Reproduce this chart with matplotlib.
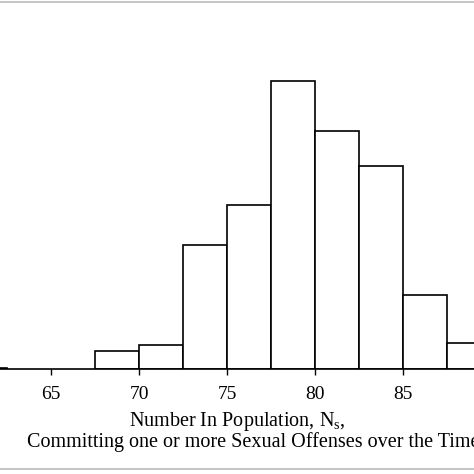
import matplotlib.pyplot as plt
from matplotlib.lines import Line2D

plt.rcParams['font.family'] = ['Liberation Serif', 'DejaVu Serif']

# histogram bins (left edges, width 2.5) and heights
bin_lefts = [60.0, 67.5, 70.0, 72.5, 75.0, 77.5, 80.0, 82.5, 85.0, 87.5]
counts = [1, 18, 24, 124, 164, 288, 238, 203, 74, 26]
bin_width = 2.5
xticks = [65, 70, 75, 80, 85]

fig = plt.figure(figsize=(4.74, 4.74), dpi=100)
ax = fig.add_axes([0, 105 / 474, 1, 367 / 474])

ax.bar(bin_lefts, counts, width=bin_width, align='edge',
       facecolor='white', edgecolor='black', linewidth=1.2)

ax.set_xlim(62.1, 89.03)
ax.set_ylim(0, 367)
ax.set_xticks(xticks)
ax.set_xticklabels([str(t) for t in xticks], fontsize=14)
ax.set_yticks([])
for s in ['left', 'right', 'top']:
    ax.spines[s].set_visible(False)
ax.spines['bottom'].set_linewidth(1.2)
ax.tick_params(axis='x', direction='out', length=4, width=1, pad=8)

fig.text(0.5, 0.102, 'Number In Population, N$_\\mathregular{s}$,', ha='center',
         va='baseline', fontsize=14.5)
fig.text(0.058, 0.057, 'Committing one or more Sexual Offenses over the Time Period',
         ha='left', va='baseline', fontsize=14.5)

fig.add_artist(Line2D([0, 1], [1 - 2 / 474, 1 - 2 / 474], color='#bbbbbb', lw=1.2))
fig.add_artist(Line2D([0, 1], [5 / 474, 5 / 474], color='#bbbbbb', lw=1.2))

fig.savefig('out.png', dpi=100)
